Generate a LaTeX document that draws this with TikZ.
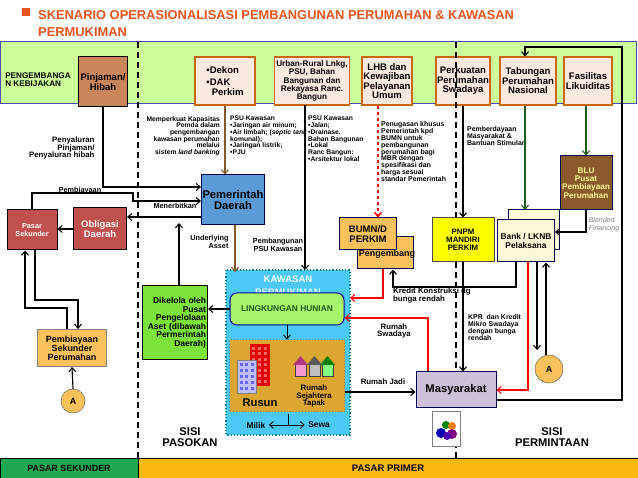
\documentclass[tikz,border=0pt]{standalone}
\usepackage{fontspec}
\setmainfont{Liberation Sans}
\usetikzlibrary{arrows.meta}
\definecolor{tit}{HTML}{E8541E}
\definecolor{band}{HTML}{CCFF99}
\definecolor{pink}{HTML}{FCE9E0}
\definecolor{brn}{HTML}{C8865A}
\definecolor{blu}{HTML}{5B9BD5}
\definecolor{rd}{HTML}{C0504D}
\definecolor{org}{HTML}{FBC15A}
\definecolor{lgr}{HTML}{7CE33A}
\definecolor{kaw}{HTML}{4CC8F4}
\definecolor{hun}{HTML}{A6F56A}
\definecolor{gold}{HTML}{DDA631}
\definecolor{lav}{HTML}{CCC0DA}
\definecolor{yel}{HTML}{FFFF00}
\definecolor{byel}{HTML}{FFF8D6}
\definecolor{blu2}{HTML}{8B5A2B}
\definecolor{dg}{HTML}{1E5A1E}
\definecolor{bar}{HTML}{FDB813}
\definecolor{bgr}{HTML}{1FA84F}
\tikzset{
 fs/.style={font=\pgfmathsetmacro\fz{#1*1.12}\fontsize{\fz}{\fz}\selectfont\bfseries},
 top/.style={draw=orange!80!black,line width=1.2pt,fill=pink,align=center,fs=8.5,inner sep=1pt},
 bx/.style={draw=black!70!blue,line width=1pt,align=center,inner sep=1pt},
 ar/.style={-{Straight Barb[length=4pt,width=7pt]},line width=1.1pt},
 lbl/.style={fs=6,align=left,inner sep=0pt},
 vd/.style={dashed,line width=1.3pt,dash pattern=on 6pt off 4pt},
}
\begin{document}
\begin{tikzpicture}[x=1pt,y=-1pt]
\useasboundingbox (0,0) rectangle (638,478);
\fill[white] (0,0) rectangle (638,478);
% title
\fill[tit] (22,8) rectangle (30,16);
\node[anchor=west,text=tit,fs=11.5,inner sep=0pt] (t1) at (38,15) {SKENARIO OPERASIONALISASI PEMBANGUNAN PERUMAHAN \& KAWASAN};
\node[anchor=west,text=tit,fs=11.5,inner sep=0pt] (t2) at (38,32) {PERMUKIMAN};
% band
\draw[fill=band,draw=blue!40!gray,line width=1pt] (0,42) rectangle (636,104);
\node[fs=7.3,align=left] (pk) at (38,80) {PENGEMBANGA\\N KEBIJAKAN};
\node[bx,draw=black,fill=brn,minimum width=49pt,minimum height=50pt,fs=8.5] (pin) at (103,82) {Pinjaman/\\Hibah};
\node[top,minimum width=60pt,minimum height=48pt,align=left] (dek) at (225,81) {•Dekon\\[3pt]•DAK\\\ \ Perkim};
\node[top,minimum width=75pt,minimum height=48pt,fs=7.3] (urb) at (312,81) {Urban-Rural Lnkg,\\PSU, Bahan\\Bangunan dan\\Rekayasa Ranc.\\Bangun};
\node[top,minimum width=50pt,minimum height=48pt] (lhb) at (387,81) {LHB dan\\Kewajiban\\Pelayanan\\Umum};
\node[top,minimum width=50pt,minimum height=48pt] (pkt) at (463,81) {Perkuatan\\Perumahan\\Swadaya};
\node[top,minimum width=56pt,minimum height=48pt] (tab) at (528,81) {Tabungan\\Perumahan\\Nasional};
\node[top,minimum width=48pt,minimum height=48pt] (fas) at (588,81) {Fasilitas\\Likuiditas};
% dashed dividers
\draw[vd] (138,42) -- (138,458);
\draw[vd] (456,42) -- (456,458);
% left nodes
\node[bx,fill=blu,minimum width=63pt,minimum height=50pt,fs=10] (pem) at (233,200) {Pemerintah\\Daerah};
\node[bx,draw=black,fill=rd,text=white,minimum width=53pt,minimum height=42pt,fs=8.5] (obl) at (100,229) {Obligasi\\Daerah};
\node[bx,draw=black,fill=rd,text=white,minimum width=50pt,minimum height=40pt,fs=6.5] (pas) at (32,230) {Pasar\\Sekunder};
\node[bx,draw=gray,fill=org,minimum width=69pt,minimum height=37pt,fs=8] (psp) at (72,348) {Pembiayaan\\Sekunder\\Perumahan};
\node[circle,draw=gray!60!black,fill=org,minimum size=24pt,fs=8,inner sep=0pt] (aL) at (73,401) {A};
\node[draw=black,line width=1pt,fill=lgr,minimum width=65pt,minimum height=74pt,align=right,fs=7.6,inner sep=1pt,text width=62pt] (dik) at (175,323) {Dikelola oleh\\Pusat\\Pengelolaan\\Aset (dibawah\\Permerintah\\Daerah)};
% texts left
\node[fs=7,align=right,anchor=east] (pen) at (98,148) {Penyaluran\\Pinjaman/\\Penyaluran hibah};
\node[lbl,align=right,anchor=north east] (mem) at (220,116) {Memperkuat Kapasitas\\Pemda dalam\\pengembangan\\kawasan perumahan\\melalui\\sistem \textit{land banking}};
\node[lbl,anchor=north west] (ps1) at (230,116) {PSU Kawasan\\•Jaringan air minum;\\•Air limbah; (\textit{septic tank}\\komunal);\\•Jaringan listrik;\\•PJU};
\node[lbl,anchor=north west] (ps2) at (308,116) {PSU Kawasan\\•Jalan;\\•Drainase.\\Bahan Bangunan\\•Lokal\\Ranc Bangun:\\•Arsitektur lokal};
\node[fs=6.5,align=right,anchor=east] (und) at (232,242) {Underlying\\Asset};
\node[fs=6.5,align=center] (psk) at (278,245) {Pembangunan\\PSU Kawasan};
% kawasan
\draw[fill=kaw,draw=teal,dotted,line width=1.2pt] (226,270) rectangle (350,435);
\node[text=white,fs=8.5] (kt) at (288,279) {KAWASAN};
\node[text=white!80!kaw,fs=8.5] (kt2) at (288,292) {PERMUKIMAN};
\node[draw=blue!60!black,line width=1pt,fill=hun,rounded corners=7pt,minimum width=114pt,minimum height=32pt,fs=7.5,text=dg] (lh) at (287,309) {LINGKUNGAN HUNIAN};
\node[draw=gray,dotted,line width=1pt,fill=gold,minimum width=115pt,minimum height=72pt] (in) at (287,376) {};
% rusun icons
\fill[red!90!black] (250,344) rectangle (270,386);
\foreach \i in {0,1,2} \foreach \j in {0,...,6} \fill[red!60] (252+\i*6,347+\j*5.5) rectangle (255+\i*6,350+\j*5.5);
\draw[fill=blue!25,draw=gray] (237,360) rectangle (256,393);
\foreach \i in {0,1,2} \foreach \j in {0,...,4} \fill[blue!60] (239.5+\i*5.5,363+\j*6) rectangle (242.5+\i*5.5,366+\j*6);
\node[fs=10] (rus) at (260,403) {Rusun};
\foreach \x/\c/\r in {295/magenta!40/magenta!70!black,309/gray!50/gray!70!black,322/green!50/green!50!black}{
 \draw[fill=\c,draw=gray!50!black] (\x,364) rectangle (\x+11,376);
 \fill[\r] (\x-2,365) -- (\x+5.5,356) -- (\x+13,365) -- cycle;}
\node[fs=7,align=center,inner sep=0pt] (rst) at (314,396) {Rumah\\Sejahtera\\Tapak};
\node[fs=7.5] (mil) at (256,425) {Milik};
\node[fs=7.5] (sew) at (319,425) {Sewa};
\coordinate (mc) at (288,425);
\draw[ar,line width=0.8pt] (mc) -- (mil.east);
\draw[ar,line width=0.8pt] (mc) -- (sew.west);
\draw[line width=0.8pt] (mc) -- (288,414);
% right nodes
\node[bx,fill=org,minimum width=56pt,minimum height=32pt,fs=8.5] (pgb) at (385,253) {};
\node[anchor=north,fs=8,inner sep=0pt] (pgt) at (387,250) {Pengembang};
\node[bx,fill=org,minimum width=57pt,minimum height=32pt,fs=8.5] (bum) at (368,234) {BUMN/D\\PERKIM};
\node[bx,fill=yel,draw=gray!60!black,minimum width=62pt,minimum height=44pt,fs=7] (pnp) at (463,240) {PNPM\\MANDIRI\\PERKIM};
\node[bx,fill=byel,minimum width=51pt,minimum height=40pt] (bkb) at (534,230) {};
\node[bx,fill=byel,minimum width=57pt,minimum height=42pt,fs=7.5] (bnk) at (526,241) {Bank / LKNB\\Pelaksana};
\node[bx,fill=blu2,text=yellow!40,minimum width=52pt,minimum height=54pt,fs=7.3] (blu) at (586,183) {BLU\\Pusat\\Pembiayaan\\Perumahan};
\node[bx,fill=lav,minimum width=80pt,minimum height=36pt,fs=10] (mas) at (456,390) {Masyarakat};
\node[circle,draw=gray!60!black,fill=org,minimum size=28pt,fs=8,inner sep=0pt] (aR) at (549,369) {A};
% people icon
\draw[gray,fill=white] (432,411) rectangle (460,446);
\fill[blue!70!black] (441,433) circle (5);\fill[green!50!black] (446,425) circle (4);\fill[orange] (452,426) circle (4);\fill[violet] (452,434) circle (5);\fill[blue!40!violet] (447,436) circle (4);
% right texts
\node[lbl,anchor=north west,fs=6.2] (pnu) at (381,121) {Penugasan khusus\\Pemerintah kpd\\BUMN untuk\\pembangunan\\perumahan bagi\\MBR dengan\\spesifikasi dan\\harga sesuai\\standar Pemerintah};
\node[lbl,anchor=north west,fs=6.2] (pbd) at (467,126) {Pemberdayaan\\Masyarakat \&\\Bantuan Stimulan};
\node[lbl,anchor=north west,fs=7] (krk) at (393,288) {Kredit Konstruksi dg\\bunga rendah};
\node[fs=7,align=center] (rsw) at (394,331) {Rumah\\Swadaya};
\node[fs=7] (rjd) at (383,382) {Rumah Jadi};
\node[lbl,anchor=north west,fs=6.2] (kpr) at (468,314) {KPR\ \ dan Kredit\\Mikro Swadaya\\dengan bunga\\rendah};
\node[font=\fontsize{7}{8}\selectfont\itshape,text=gray,align=left] (blf) at (604,225) {Blended\\Financing};
\node[fs=10,align=center] (ssp) at (190,437) {SISI\\PASOKAN};
\node[fs=10,align=center] (ssm) at (552,437) {SISI\\PERMINTAAN};
% bottom bar
\draw[fill=bgr] (0,458) rectangle (138,478);
\draw[fill=bar] (138,458) rectangle (638,478);
\node[fs=8] (bps) at (69,468) {PASAR SEKUNDER};
\node[fs=8.5] (bpp) at (388,468) {PASAR PRIMER};
% connectors
\draw[ar] (pin.south) -- (103,187) -- (pem.west |- 0,187);
\draw[ar] (pas.north) -- (32,193) -- (133,193) -- (133,201) -- (pem.west |- 0,201);
\node[fs=6.5] (pby) at (80,191) {Pembiayaan};
\node[fs=6.5] (mnb) at (175,206) {Menerbitkan};
\draw[ar] (pem.west |- 0,217) -- (obl.east |- 0,217);
\draw[ar] (obl.west |- 0,229) -- (pas.east |- 0,229);
\draw[ar,brown!70!black] (dek.south) -- (pem.north -| dek.south);
\draw[ar,brown!70!black] (235,225) -- (kt.north -| 235,0);
\draw[ar] (305,105) -- (305,270);
\draw[ar] (dik.north -| 179,0) -- (179,223);
\draw[ar] (lh.west) -- (dik.east |- lh.west);
\draw[ar,line width=0.9pt] (lh.south) -- (in.north -| lh.south);
\draw[ar] (in.east |- 0,392) -- (mas.west |- 0,392);
\draw[ar] (pas.south -| 35,0) -- (35,300) -- (78,300) -- (psp.north -| 78,0);
\draw[ar] (psp.north -| 67,0) -- (67,308) -- (25,308) -- (pas.south -| 25,0);
\draw[ar] (aL.north) -- (psp.south);
\draw[ar,red,dashed,line width=1.5pt] (lhb.south -| 378,0) -- (bum.north -| 378,0);
\draw[ar,red] (pgb.south -| 383,0) -- (383,298) -- (350,298);
\draw[ar] (bnk.south -| 516,0) -- (516,287) -- (393,287) -- (pgb.south -| 393,0);
\draw[ar,red] (mas.north -| 428,0) -- (428,318) -- (lh.east |- 0,318);
\draw[ar] (pkt.south) -- (pnp.north);
\draw[ar] (pnp.south) -- (mas.north -| pnp.south);
\draw[ar,dg] (tab.south -| 525,0) -- (525,210);
\draw[ar,dg] (fas.south -| blu.north) -- (blu.north);
\draw[ar] (blu.south) -- (586,232) -- (bnk.east |- 0,232);
\draw[ar,red] (bnk.south -| 528,0) -- (528,390) -- (mas.east |- 0,390);
\draw[ar] (bnk.south -| 537,0) -- (537,350);
\draw[ar] (aR.north -| 546,0) -- (bnk.south -| 546,0);
\draw[ar] (mas.east |- 0,400) -- (622,400) -- (622,47) -- (525,47) -- (tab.north -| 525,0);
\end{tikzpicture}
\end{document}
